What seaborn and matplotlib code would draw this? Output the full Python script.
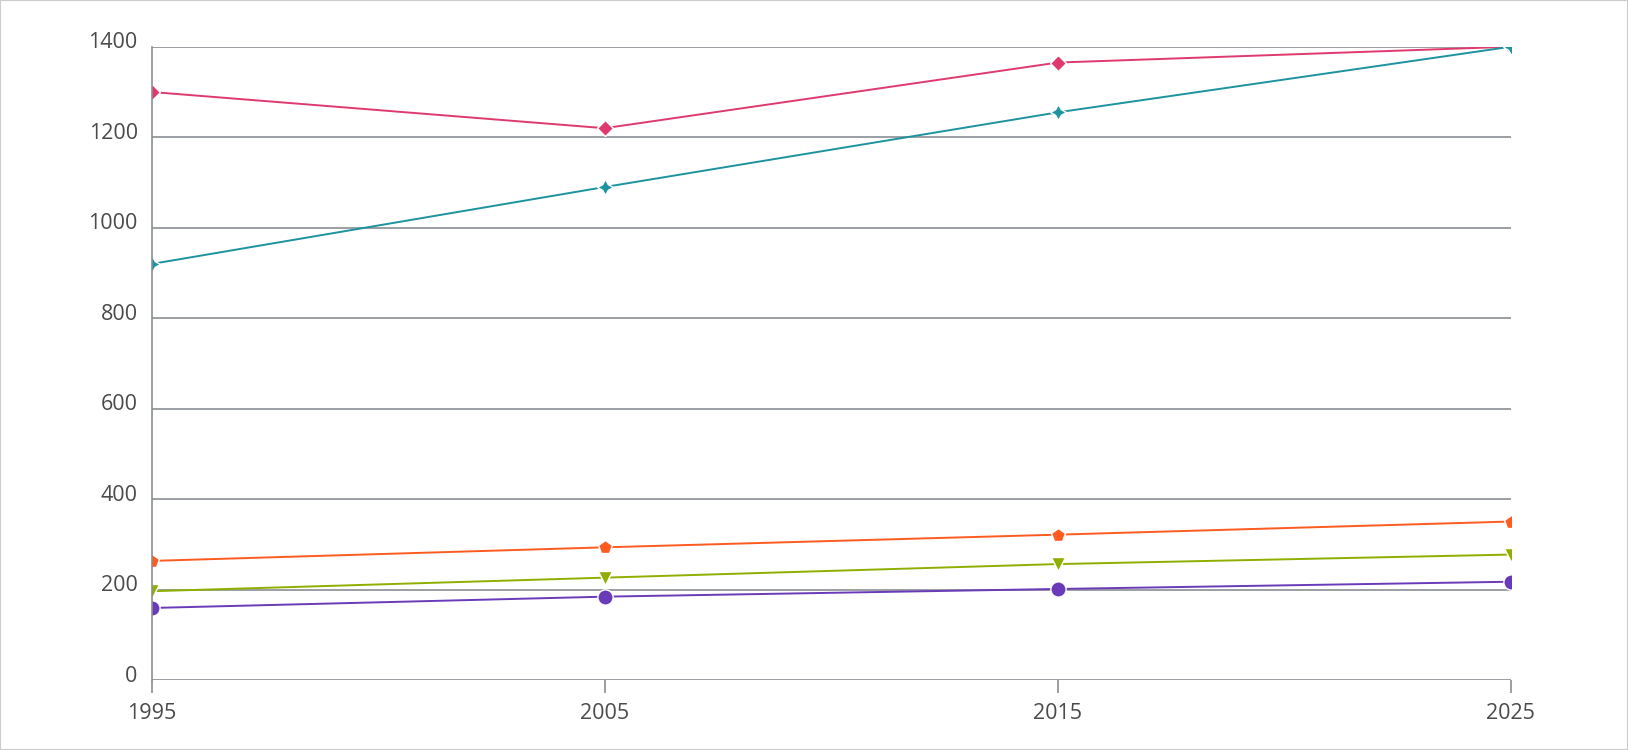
import pandas as pd
import matplotlib.pyplot as plt
import matplotlib.transforms as mtransforms
import seaborn as sns

# values
years = [1995, 2005, 2015, 2025]
series_a = [1300, 1220, 1365, 1400]
series_b = [920, 1090, 1255, 1400]
series_c = [264, 294, 322, 351]
series_d = [197, 227, 257, 278]
series_e = [160, 185, 202, 218]
names = ['A', 'B', 'C', 'D', 'E']
colors = ['#DE3A6E', '#1C939E', '#FF5A1F', '#8FAF00', '#6A3BB8']
markers = ['D', (4, 1, 0), 'p', 'v', 'o']
sizes = [8.5, 11.5, 10.5, 10, 11]

rows = []
for name, vals in zip(names, [series_a, series_b, series_c, series_d, series_e]):
    for yr, v in zip(years, vals):
        rows.append({'year': yr, 'value': v, 'series': name})
df = pd.DataFrame(rows)

sns.set_style('white')
plt.rcParams['font.family'] = ['Open Sans', 'DejaVu Sans']

fig = plt.figure(figsize=(16.28, 7.5), dpi=100)
ax = fig.add_axes([0.0931, 0.0928, 0.928 - 0.0931, 0.9377 - 0.0928])

sns.lineplot(data=df, x='year', y='value', hue='series', style='series',
             palette=dict(zip(names, colors)), markers=dict(zip(names, markers)),
             dashes=False, linewidth=1.4, markeredgecolor='white',
             markeredgewidth=1, legend=False, ax=ax)
for line, ms in zip(ax.get_lines(), sizes):
    line.set_markersize(ms)

ax.set_xlim(1995, 2025)
ax.set_ylim(0, 1400)
ax.set_xticks(years)
ax.set_yticks(range(0, 1401, 200))
ax.grid(axis='y', color='#8a8d93', linewidth=1.2)
ax.grid(axis='x', visible=False)
ax.set_axisbelow(True)
ax.set_xlabel('')
ax.set_ylabel('')

for side in ['top', 'right', 'bottom']:
    ax.spines[side].set_visible(False)
ax.spines['left'].set_color('#8a8d93')
ax.spines['left'].set_linewidth(1.2)

ax.tick_params(axis='x', length=9, width=1.2, color='#8a8d93', labelcolor='#4a4a4a',
               labelsize=15.5, pad=7, direction='out', bottom=True)
ax.tick_params(axis='y', length=0, labelcolor='#4a4a4a', labelsize=15.5, pad=10)

shift = mtransforms.ScaledTranslation(0, 0.065, fig.dpi_scale_trans)
for lab in ax.get_yticklabels():
    lab.set_transform(lab.get_transform() + shift)

# light frame round the whole picture
fig.patches.append(plt.Rectangle((0, 0), 1, 1, transform=fig.transFigure,
                                 fill=False, edgecolor='#cccccc', linewidth=1.5))

fig.savefig('out.png', dpi=100)
